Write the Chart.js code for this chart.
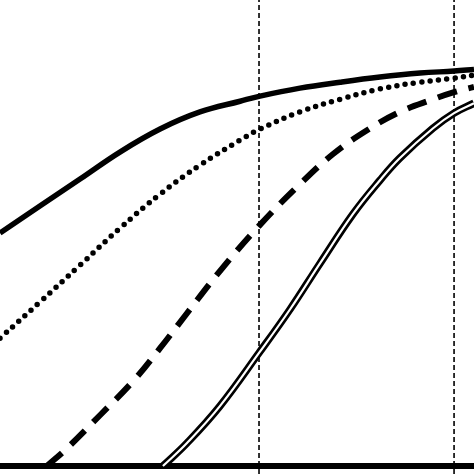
<!DOCTYPE html>
<html>
<head>
<meta charset="utf-8">
<script src="https://cdn.jsdelivr.net/npm/chart.js@4"></script>
<style>
  body { margin: 0; background: #fff; }
  canvas { display: block; }
</style>
</head>
<body>
<canvas id="myChart01" width="474" height="474"></canvas>
<script>
// x in units of the first marker line, y normalised to the upper plateau
const solidX = [0, 0.154, 0.309, 0.463, 0.618, 0.772, 0.927, 1.004, 1.158, 1.313, 1.467, 1.622, 1.753, 1.83];
const solidY = [0.587, 0.655, 0.723, 0.791, 0.849, 0.892, 0.919, 0.932, 0.952, 0.967, 0.980, 0.990, 0.995, 0.999];

const dottedX = [0, 0.154, 0.309, 0.463, 0.618, 0.772, 0.927, 1.004, 1.158, 1.313, 1.467, 1.622, 1.753, 1.83];
const dottedY = [0.322, 0.413, 0.506, 0.599, 0.685, 0.758, 0.821, 0.849, 0.892, 0.924, 0.950, 0.967, 0.977, 0.985];

const dashedX = [0.181, 0.259, 0.386, 0.514, 0.618, 0.722, 0.849, 1.0, 1.158, 1.286, 1.417, 1.544, 1.672, 1.753, 1.83];
const dashedY = [0, 0.045, 0.128, 0.214, 0.297, 0.385, 0.491, 0.605, 0.710, 0.786, 0.846, 0.892, 0.924, 0.942, 0.955];

const doubleX = [0.629, 0.722, 0.849, 1.0, 1.120, 1.236, 1.363, 1.467, 1.544, 1.672, 1.753, 1.83];
const doubleY = [0, 0.058, 0.151, 0.285, 0.395, 0.511, 0.635, 0.720, 0.776, 0.851, 0.889, 0.914];

const markerX = [1.0, 1.753];
const xMin = 0, xMax = 1.83;
const yMin = -0.02, yMax = 1.174;

function pontos(xs, ys) {
    const lista = [];
    for (let i = 0; i < xs.length; i++) {
        lista.push({ x: xs[i], y: ys[i] });
    }
    return lista;
}

const datasets = [];

// thin white core on top of the black stroke makes the double line
datasets.push({
    data: pontos(doubleX, doubleY),
    borderColor: '#fff',
    borderWidth: 2.2,
    tension: 0.4,
    order: 0
});
datasets.push({
    data: pontos(doubleX, doubleY),
    borderColor: '#000',
    borderWidth: 7.5,
    tension: 0.4,
    order: 1
});
datasets.push({
    data: pontos(solidX, solidY),
    borderColor: '#000',
    borderWidth: 5.5,
    tension: 0.4,
    order: 2
});
datasets.push({
    data: pontos(dottedX, dottedY),
    borderColor: '#000',
    borderWidth: 5.5,
    borderDash: [0, 8.4],
    borderCapStyle: 'round',
    tension: 0.4,
    order: 2
});
datasets.push({
    data: pontos(dashedX, dashedY),
    borderColor: '#000',
    borderWidth: 6,
    borderDash: [20, 12],
    tension: 0.4,
    order: 2
});

// baseline
datasets.push({
    data: [{ x: xMin, y: 0 }, { x: xMax, y: 0 }],
    borderColor: '#000',
    borderWidth: 6,
    order: 3
});

// vertical marker lines
for (let i = 0; i < markerX.length; i++) {
    datasets.push({
        data: [{ x: markerX[i], y: yMin }, { x: markerX[i], y: yMax }],
        borderColor: '#000',
        borderWidth: 1.6,
        borderDash: [5, 3],
        order: 4
    });
}

new Chart(document.getElementById('myChart01'), {
    type: 'line',
    data: { datasets },
    options: {
        responsive: false,
        animation: false,
        layout: { padding: 0 },
        elements: { point: { radius: 0 } },
        plugins: { legend: { display: false }, tooltip: { enabled: false } },
        scales: {
            x: { type: 'linear', min: xMin, max: xMax, display: false },
            y: { type: 'linear', min: yMin, max: yMax, display: false }
        }
    }
});
</script>
</body>
</html>
